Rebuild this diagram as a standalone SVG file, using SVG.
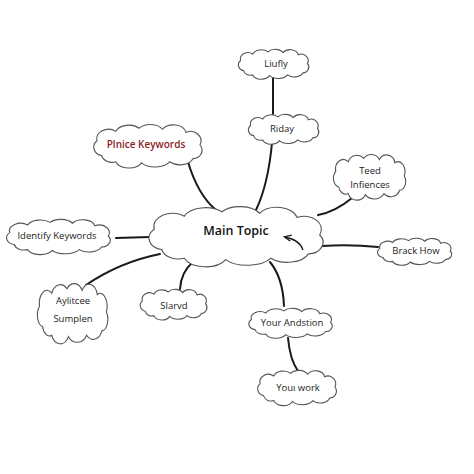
<svg xmlns="http://www.w3.org/2000/svg" xmlns:xlink="http://www.w3.org/1999/xlink" width="474" height="474" viewBox="0 0 474 474">
<style>
.cl{fill:#fff;stroke:#555;stroke-width:1.1;vector-effect:non-scaling-stroke}
.t{font-family:"Open Sans","Liberation Sans",sans-serif;font-size:9.5px;fill:#222;text-anchor:middle;dominant-baseline:central}
.main{font-size:12.5px;font-weight:600;fill:#111}
.red{fill:#8a1c24;font-weight:600;font-size:10px}
.c{fill:none;stroke:#1a1a1a;stroke-width:2;stroke-linecap:round}
</style>
<defs>
<path id="cloud" class="cl" d="M10,30 A8,8 0 0 1 6,16 A10,9 0 0 1 22,7 A12,9 0 0 1 42,4 A12,9 0 0 1 62,5 A11,9 0 0 1 82,8 A9,9 0 0 1 94,20 A8,8 0 0 1 88,33 A12,9 0 0 1 68,36 A14,9 0 0 1 44,37 A12,9 0 0 1 22,36 A9,8 0 0 1 10,30 Z"/>
<marker id="ah" viewBox="0 0 10 10" refX="8" refY="5" markerWidth="6" markerHeight="6" orient="auto"><path d="M0,1 L9,5 L0,9" fill="none" stroke="#1a1a1a" stroke-width="1.6"/></marker>
</defs>
<rect width="474" height="474" fill="#fff"/>
<g id="connectors">
<path class="c" d="M273,78 L273,114"/>
<path class="c" d="M272,143 Q268,185 256,210"/>
<path class="c" d="M188,162 Q198,195 216,210"/>
<path class="c" d="M352,198 Q335,212 318,215"/>
<path class="c" d="M116,238 L150,237"/>
<path class="c" d="M378,247 Q350,244 322,246"/>
<path class="c" d="M86,285 Q120,262 160,254"/>
<path class="c" d="M180,289 Q181,272 193,262"/>
<path class="c" d="M270,262 Q283,278 284,306"/>
<path class="c" d="M288,338 Q290,360 298,371"/>
</g>
<g id="n-liufly"><use xlink:href="#cloud" transform="translate(236,49) scale(0.76,0.72)"/><text class="t" x="276" y="63">Liufly</text></g>
<g id="n-riday"><use xlink:href="#cloud" transform="translate(246,114) scale(0.76,0.72)"/><text class="t" x="282" y="128">Riday</text></g>
<g id="n-plnice"><use xlink:href="#cloud" transform="translate(90,124) scale(1.17,1.05)"/><text class="t red" x="146" y="144">Plnice Keywords</text></g>
<g id="n-teed"><use xlink:href="#cloud" transform="translate(331,154) scale(0.78,1.1)"/><text class="t" x="370" y="170">Teed</text><text class="t" x="370" y="184">Infiences</text></g>
<g id="n-identify"><use xlink:href="#cloud" transform="translate(3,219) scale(1.12,0.85)"/><text class="t" x="57" y="235">Identify Keywords</text></g>
<g id="n-main"><use xlink:href="#cloud" transform="translate(143,206) scale(1.88,1.45)"/><text class="t main" x="236" y="230">Main Topic</text><path d="M303,250 Q300,240 285,237" fill="none" stroke="#1a1a1a" stroke-width="1.3" marker-end="url(#ah)"/></g>
<g id="n-brack"><use xlink:href="#cloud" transform="translate(375,238) scale(0.8,0.65)"/><text class="t" x="416" y="250">Brack How</text></g>
<g id="n-aylitcee"><use xlink:href="#cloud" transform="translate(35,283) scale(0.76,1.45)"/><text class="t" x="73" y="300">Aylitcee</text><text class="t" x="73" y="318">Sumplen</text></g>
<g id="n-slarvd"><use xlink:href="#cloud" transform="translate(138,289) scale(0.72,0.74)"/><text class="t" x="174" y="305">Slarvd</text></g>
<g id="n-andstion"><use xlink:href="#cloud" transform="translate(246,308) scale(0.9,0.72)"/><text class="t" x="292" y="322">Your Andstion</text></g>
<g id="n-work"><use xlink:href="#cloud" transform="translate(255,370) scale(0.85,0.85)"/><text class="t" x="298" y="387">Youı work</text></g>
</svg>
